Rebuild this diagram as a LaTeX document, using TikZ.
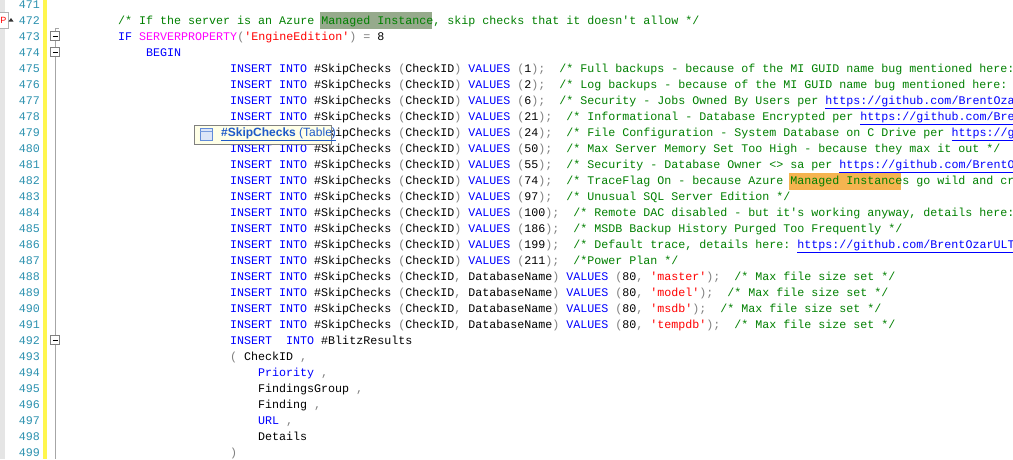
\documentclass[tikz,border=0pt]{standalone}
\usepackage{fontspec}
\setmonofont{Liberation Mono}
\setsansfont{Liberation Sans}
\definecolor{kw}{RGB}{0,0,255}
\definecolor{cm}{RGB}{0,128,0}
\definecolor{gy}{RGB}{128,128,128}
\definecolor{st}{RGB}{255,0,0}
\definecolor{fn}{RGB}{255,0,255}
\definecolor{ln}{RGB}{43,145,175}
\definecolor{hl}{RGB}{150,170,140}
\definecolor{hlo}{RGB}{245,180,80}
\definecolor{tipbg}{RGB}{255,255,231}
\definecolor{tiptx}{RGB}{30,90,200}
\newcommand\K[1]{\textcolor{kw}{#1}}
\newcommand\G[1]{\textcolor{gy}{#1}}
\newcommand\C[1]{\textcolor{cm}{#1}}
\newcommand\Sq[1]{\textcolor{st}{#1}}
\newcommand\Mf[1]{\textcolor{fn}{#1}}
\newcommand\Ul[1]{\textcolor{kw}{\underline{#1}}}
\newcommand\SK{\K{INSERT INTO} \#SkipChecks \G{(}CheckID\G{)} \K{VALUES} }
\newcommand\SD{\K{INSERT INTO} \#SkipChecks \G{(}CheckID\G{,} DatabaseName\G{)} \K{VALUES} \G{(}80\G{,} }
\begin{document}
\begin{tikzpicture}[x=1pt,y=-1pt,
  code/.style={anchor=base west,inner sep=0pt,font=\ttfamily\fontsize{11.67}{16}\selectfont},
  lnum/.style={anchor=base east,inner sep=0pt,text=ln,font=\ttfamily\fontsize{11.67}{16}\selectfont},
  fold/.style={draw=gy,fill=white,minimum size=9pt,inner sep=0pt,line width=0.8pt}]
\useasboundingbox (0,0) rectangle (1013,459);
\clip (0,0) rectangle (1013,459);
\fill[white] (0,0) rectangle (1013,459);
\fill[gray!20] (0,0) rectangle (5,459);
\fill[yellow!70!white] (43,0) rectangle (47,459);
\draw[gy!70,line width=0.8pt] (55,28) -- (55,459);
\draw[gy!70,line width=0.8pt] (55,28) -- (59,28);
% line numbers
\foreach \n in {471,...,499}{
  \node[lnum] (ln\n) at (40,{24+16*(\n-472)}) {\n};
}
% marker
\node[draw=gray!60,fill=white,minimum width=9pt,minimum height=16pt,inner sep=0pt,anchor=east,text=red,font=\sffamily\small] (mk) at (8,20) {P};
\coordinate (tri) at (11,20);
\fill[black!80] ([xshift=-2.5pt,yshift=-1.5pt]tri) -- ([xshift=2.5pt,yshift=-1.5pt]tri) -- ([yshift=2pt]tri) -- cycle;
% fold boxes
\node[fold] (f473) at (55,36) {\rule{5pt}{0.8pt}};
\node[fold] (f474) at (55,52) {\rule{5pt}{0.8pt}};
\node[fold] (f492) at (55,340) {\rule{5pt}{0.8pt}};
% highlights
\fill[hl] (320,12) rectangle (432,29);
\fill[hlo] (789,173) rectangle (901,190);
% code
\node[code] (c472) at (118,24) {\C{/* If the server is an Azure Managed Instance, skip checks that it doesn't allow */}};
\node[code] (c473) at (118,40) {\K{IF} \Mf{SERVERPROPERTY}\G{(}\Sq{'EngineEdition'}\G{) =} 8};
\node[code] (c474) at (146,56) {\K{BEGIN}};
\node[code] (c475) at (230,72) {\SK\G{(}1\G{);}~~\C{/* Full backups - because of the MI GUID name bug mentioned here: }};
\node[code] (c476) at (230,88) {\SK\G{(}2\G{);}~~\C{/* Log backups - because of the MI GUID name bug mentioned here: }};
\node[code] (c477) at (230,104) {\SK\G{(}6\G{);}~~\C{/* Security - Jobs Owned By Users per }\Ul{https://github.com/BrentOza}};
\node[code] (c478) at (230,120) {\SK\G{(}21\G{);}~~\C{/* Informational - Database Encrypted per }\Ul{https://github.com/Bre}};
\node[code] (c479) at (230,136) {\SK\G{(}24\G{);}~~\C{/* File Configuration - System Database on C Drive per }\Ul{https://g}};
\node[code] (c480) at (230,152) {\SK\G{(}50\G{);}~~\C{/* Max Server Memory Set Too High - because they max it out */}};
\node[code] (c481) at (230,168) {\SK\G{(}55\G{);}~~\C{/* Security - Database Owner <> sa per }\Ul{https://github.com/BrentO}};
\node[code] (c482) at (230,184) {\SK\G{(}74\G{);}~~\C{/* TraceFlag On - because Azure Managed Instances go wild and cr}};
\node[code] (c483) at (230,200) {\SK\G{(}97\G{);}~~\C{/* Unusual SQL Server Edition */}};
\node[code] (c484) at (230,216) {\SK\G{(}100\G{);}~~\C{/* Remote DAC disabled - but it's working anyway, details here: }};
\node[code] (c485) at (230,232) {\SK\G{(}186\G{);}~~\C{/* MSDB Backup History Purged Too Frequently */}};
\node[code] (c486) at (230,248) {\SK\G{(}199\G{);}~~\C{/* Default trace, details here: }\Ul{https://github.com/BrentOzarULT}};
\node[code] (c487) at (230,264) {\SK\G{(}211\G{);}~~\C{/*Power Plan */}};
\node[code] (c488) at (230,280) {\SD\Sq{'master'}\G{);}~~\C{/* Max file size set */}};
\node[code] (c489) at (230,296) {\SD\Sq{'model'}\G{);}~~\C{/* Max file size set */}};
\node[code] (c490) at (230,312) {\SD\Sq{'msdb'}\G{);}~~\C{/* Max file size set */}};
\node[code] (c491) at (230,328) {\SD\Sq{'tempdb'}\G{);}~~\C{/* Max file size set */}};
\node[code] (c492) at (230,344) {\K{INSERT}~~\K{INTO} \#BlitzResults};
\node[code] (c493) at (230,360) {\G{(} CheckID \G{,}};
\node[code] (c494) at (258,376) {\K{Priority} \G{,}};
\node[code] (c495) at (258,392) {FindingsGroup \G{,}};
\node[code] (c496) at (258,408) {Finding \G{,}};
\node[code] (c497) at (258,424) {\K{URL} \G{,}};
\node[code] (c498) at (258,440) {Details};
\node[code] (c499) at (230,456) {\G{)}};
% tooltip
\coordinate (tipnw) at (194,125);
\coordinate (tipse) at (331,144);
\fill[tipbg] (tipnw) rectangle (tipse);
\draw[gray,line width=0.8pt] (tipnw) rectangle (tipse);
\node[draw=tiptx!70,fill=tiptx!15,minimum width=12pt,minimum height=12pt,inner sep=0pt] (ticon) at (206,134) {};
\draw[tiptx!60] ([yshift=-3pt]ticon.north west) -- ([yshift=-3pt]ticon.north east);
\node[anchor=west,inner sep=0pt,font=\sffamily\fontsize{12}{14}\selectfont,text=tiptx] (tlab) at (221,134) {\underline{\textbf{\#SkipChecks}~(Table)}};
\end{tikzpicture}
\end{document}
